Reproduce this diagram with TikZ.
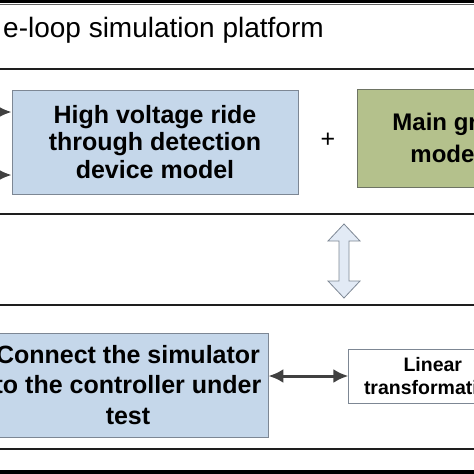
\documentclass[tikz,border=0pt]{standalone}
\usepackage{fontspec}
\setmainfont{Liberation Sans}
\usepackage{xcolor}
\usetikzlibrary{calc}
\usetikzlibrary{positioning}
\usetikzlibrary{arrows.meta}

\definecolor{modelblue}{RGB}{197,215,234}
\definecolor{gridgreen}{RGB}{180,193,140}
\definecolor{boxline}{RGB}{125,135,148}
\definecolor{gridline}{RGB}{110,116,100}
\definecolor{linkfill}{RGB}{226,234,245}
\definecolor{darkarrow}{RGB}{64,64,64}
\definecolor{rulecol}{RGB}{30,30,30}

\begin{document}
\begin{tikzpicture}[x=1pt, y=-1pt,
    model/.style={draw=boxline, line width=0.8pt, inner sep=0pt, align=center,
        font=\bfseries\fontsize{25}{27.5}\selectfont},
    panel/.style={draw=rulecol, line width=2pt},
    darkarr/.style={draw=darkarrow, line width=3pt,
        {Latex[length=15pt,width=14pt]}-{Latex[length=15pt,width=14pt]}},
    inarr/.style={draw=darkarrow, line width=3pt, -{Latex[length=15pt,width=14pt]}},
    hollow/.style={draw=boxline, fill=linkfill, line width=0.8pt, line join=miter}]

        \useasboundingbox (0,0) rectangle (474,474);
        \clip (0,0) rectangle (474,474);

        \def\gap{59pt}

        % outer frame and the two panels
        \fill[black] (0,0) rectangle (474,3);
        \draw[rulecol!70, line width=1pt] (0,4.5) -- (474,4.5);
        \fill[black] (0,469.5) rectangle (474,474);
        \draw[panel] (-10,69) rectangle (490,214);
        \draw[panel] (-10,305) rectangle (490,449);

        \node[anchor=base west, inner sep=0pt, font=\fontsize{28}{32}\selectfont]
            (title) at (3,37) {e-loop simulation platform};

        % upper panel: the two models
        \begin{scope}
            \node[model, fill=modelblue, minimum width=286pt, minimum height=104pt]
                (hvrt) at (155,142) {High voltage ride\\through detection\\device model};
            \node[model, fill=gridgreen, draw=gridline, minimum width=176pt,
                minimum height=98pt, font=\bfseries\fontsize{24}{32}\selectfont]
                (grid) [right=\gap of hvrt, yshift=4pt] {Main grid\\model};
            \node[inner sep=0pt, font=\fontsize{25}{28}\selectfont]
                (plus) at ($(hvrt.east)!.5!(grid.west)$) {+};
        \end{scope}

        % lower panel: simulator and interface
        \begin{scope}
            \node[model, fill=modelblue, minimum width=280pt, minimum height=104pt,
                font=\bfseries\fontsize{25}{30.5}\selectfont]
                (conn) at (128,385) {Connect the simulator\\to the controller under\\test};
            \node[model, fill=white, minimum width=168pt, minimum height=54pt,
                font=\bfseries\fontsize{19.5}{23}\selectfont]
                (lin) [right=80pt of conn, yshift=9pt] {Linear\\transformation};
        \end{scope}

        \coordinate (in1) at (-20,112);
        \coordinate (in2) at (-20,175);
        \coordinate (link) at (344,261);

        \begin{scope}
            \draw[inarr] (in1) -- (hvrt.west |- in1);
            \draw[inarr] (in2) -- (hvrt.west |- in2);
            \draw[darkarr] (conn.east |- lin.west) -- (lin.west);
            \draw[hollow, shift={(link)}] (0,-37) -- (16,-20) -- (5,-20) -- (5,20)
                -- (16,20) -- (0,37) -- (-16,20) -- (-5,20) -- (-5,-20)
                -- (-16,-20) -- cycle;
        \end{scope}

\end{tikzpicture}
\end{document}
